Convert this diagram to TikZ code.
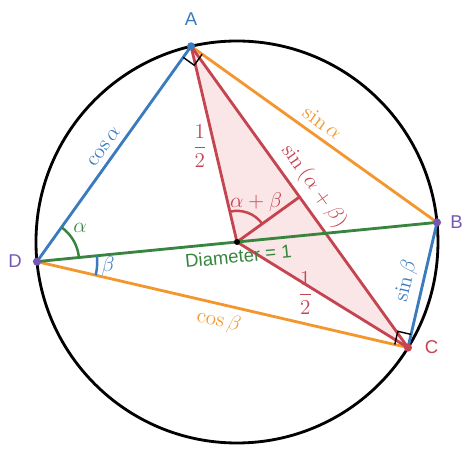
\documentclass[tikz,border=0pt]{standalone}
\usepackage{fontspec}
\newfontfamily\ptfont{Liberation Sans}
\usetikzlibrary{calc,angles}

\definecolor{ggblue}{RGB}{58,122,190}
\definecolor{ggorange}{RGB}{243,150,45}
\definecolor{gggreen}{RGB}{55,133,62}
\definecolor{ggred}{RGB}{196,68,80}
\definecolor{ggpink}{RGB}{250,229,231}
\definecolor{ggpurple}{RGB}{118,88,178}

\begin{document}
\begin{tikzpicture}[
    seg/.style={line width=1.6pt},
    sqmark/.style={black, line width=0.8pt},
    arcmark/.style={line width=1.4pt},
    ptlabel/.style={font=\ptfont\fontsize{10.5}{12}\selectfont},
    mathlabel/.style={font=\fontsize{12}{14}\selectfont}
]
    \useasboundingbox (-4.716,-4.617) rectangle (4.716,4.816);

    % --- Points on the circle (diameter DB) ---
    \coordinate (O) at (0,0);
    \coordinate (A) at (103.2:4); \coordinate (B) at (5.6:4);
    \coordinate (C) at (-31.7:4); \coordinate (D) at (185.6:4);
    \coordinate (M) at ($(A)!0.5!(C)$);

    % Shaded triangle OAC
    \fill[ggpink] (O)--(A)--(C)--cycle;

    \draw[black, line width=1.6pt] (O) circle (4);

    % Sides of the quadrilateral
    \draw[seg, ggblue] (D)--(A) node[midway, sloped, above, mathlabel] (lcosa) {$\cos\alpha$};
    \draw[seg, ggorange] (A)--(B) node[midway, sloped, above, mathlabel] (lsina) {$\sin\alpha$};
    \draw[seg, ggblue] (C)--(B) node[midway, sloped, above, mathlabel] (lsinb) {$\sin\beta$};
    \draw[seg, ggorange] (D)--(C) node[midway, sloped, below, mathlabel] (lcosb) {$\cos\beta$};

    % Radii and chord AC
    \draw[seg, ggred] (O)--(A) node[pos=0.49, left, mathlabel] (lhalfA) {$\displaystyle\frac{1}{2}$};
    \draw[seg, ggred] (O)--(C) node[pos=0.4, yshift=-5pt, mathlabel] (lhalfC) {$\displaystyle\frac{1}{2}$};
    \draw[seg, ggred] (A)--(C) node[midway, sloped, above, mathlabel] (lsinab) {$\sin\,(\alpha+\beta)$};
    \draw[seg, ggred] (O)--(M);

    \draw[seg, gggreen] (D)--(B) node[midway, sloped, below, ptlabel] (ldiam) {Diameter = 1};

    % Angles
    \pic[draw, gggreen, arcmark, angle radius=0.84cm] {angle=B--D--A};
    \pic[draw, ggblue, arcmark, angle radius=1.2cm] {angle=C--D--B};
    \pic[draw, ggred, arcmark, angle radius=0.62cm] {angle=M--O--A};
    \node[gggreen, mathlabel] (lalpha) at ($(D)+(38:1.09)$) {$\alpha$};
    \node[ggblue, mathlabel] (lbeta) at ($(D)+(-4:1.42)$) {$\beta$};
    \node[ggred, mathlabel] (lab) at ($(O)+(0.38,0.80)$) {$\alpha+\beta$};

    % Right angles at A and C
    \draw[sqmark] ($(A)!0.27cm!(D)$) -- ($(A)!0.27cm!(D)+(A)!0.27cm!(B)-(A)$) -- ($(A)!0.27cm!(B)$);
    \draw[sqmark] ($(C)!0.27cm!(D)$) -- ($(C)!0.27cm!(D)+(C)!0.27cm!(B)-(C)$) -- ($(C)!0.27cm!(B)$);

    \foreach \p/\c in {A/ggblue,B/ggpurple,C/ggred,D/ggpurple} \fill[\c] (\p) circle (2.3pt);
    \fill (O) circle (1.7pt);

    \node[ptlabel, ggblue, above=8pt] (lA) at (A) {A};
    \node[ptlabel, ggpurple, right=4pt] (lB) at (B) {B};
    \node[ptlabel, ggred, right=6pt] (lC) at (C) {C};
    \node[ptlabel, ggpurple, left=5pt] (lD) at (D) {D};
\end{tikzpicture}
\end{document}
